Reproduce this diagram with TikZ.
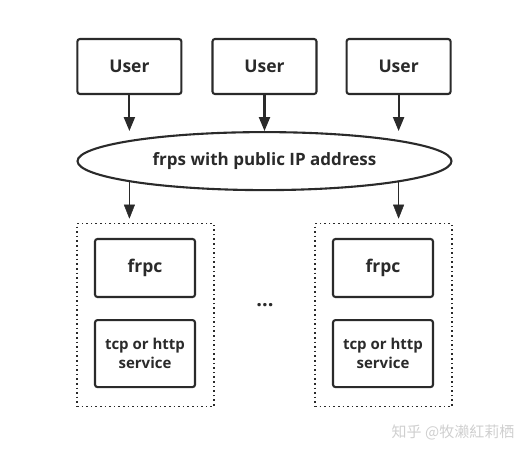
\documentclass[tikz,border=0pt]{standalone}
\usepackage{fontspec}
\setmainfont{Open Sans}
\newfontfamily\cjk{Noto Sans CJK SC}
\usepackage{xcolor}
\definecolor{edgegray}{HTML}{2A2A2A}
\definecolor{markgray}{HTML}{CFCFCF}
\usetikzlibrary{arrows.meta,shapes.geometric,positioning,backgrounds}

\begin{document}
\begin{tikzpicture}[x=1pt,y=-1pt,->,>={Triangle[length=14pt,width=11pt]},line width=2.1pt]
  \tikzstyle{box}=[draw=edgegray,rounded corners=2.5pt,text=edgegray,align=center,font=\bfseries\fontsize{17.5}{20}\selectfont]
  \tikzstyle{user}=[box,minimum width=104pt,minimum height=55pt]
  \tikzstyle{server}=[ellipse,draw=edgegray,fill=white,text=edgegray,inner sep=0pt,minimum width=374pt,minimum height=58pt,font=\bfseries\fontsize{17}{20}\selectfont]
  \tikzstyle{host}=[draw=edgegray,dash pattern=on 1.6pt off 3pt,line width=1.6pt,minimum width=137pt,minimum height=183pt]
  \tikzstyle{client}=[box,minimum width=100pt,minimum height=58pt]
  \tikzstyle{service}=[box,minimum width=100pt,minimum height=67pt,font=\bfseries\fontsize{15}{19}\selectfont]
  \tikzstyle{e}=[draw=edgegray,color=edgegray]

  \useasboundingbox (0,0) rectangle (532,456);

  \node[user]    (U2) at (264.5,66.5)  {User};
  \node[user]    (U1) [left=29pt of U2]  {User};
  \node[user]    (U3) [right=28pt of U2] {User};
  \node[server]  (S)  [below=36pt of U2] {frps with public IP address};

  \node[host]    (H1) at (145.5,315) {};
  \node[host]    (H2) at (383.5,315) {};
  \node[client]  (C1) at (145,268)   {frpc};
  \node[client]  (C2) at (383,268)   {frpc};
  \node[service] (T1) [below=21pt of C1] {tcp or http\\service};
  \node[service] (T2) [below=21pt of C2] {tcp or http\\service};

  \node[text=edgegray,font=\bfseries\fontsize{20}{20}\selectfont] (dots) at (265,305) {...};
  \node[text=markgray,font=\cjk\fontsize{15}{15}\selectfont] (mark) at (453,432) {知乎 @牧濑紅莉栖};

  \path (U1) edge[e] (U1 |- S.north)
        (U2) edge[e] (U2 |- S.north)
        (U3) edge[e] (U3 |- S.north);

  % lower arrows start behind the filled ellipse
  \begin{pgfonlayer}{background}
    \path (U1 |- S.center) edge[e,shorten >=4pt] (U1 |- H1.north)
          (U3 |- S.center) edge[e,shorten >=4pt] (U3 |- H2.north);
  \end{pgfonlayer}

\end{tikzpicture}
\end{document}
